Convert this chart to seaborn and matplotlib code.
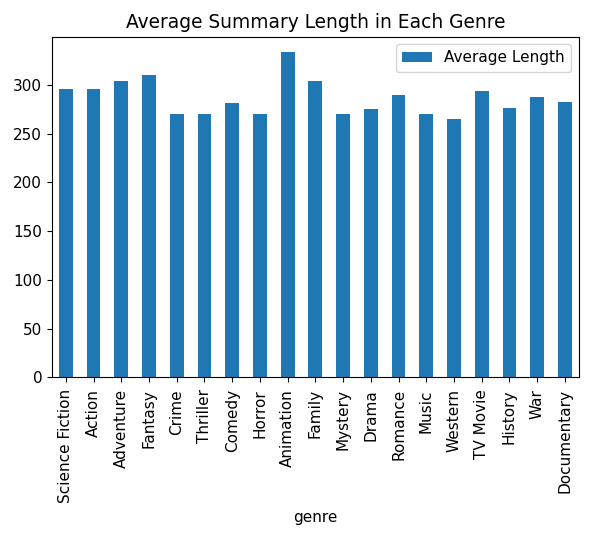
import numpy as np
import pandas as pd
import matplotlib
matplotlib.use("Agg")
import matplotlib.pyplot as plt
import seaborn as sns

genres = ['Science Fiction', 'Action', 'Adventure', 'Fantasy', 'Crime', 'Thriller',
          'Comedy', 'Horror', 'Animation', 'Family', 'Mystery', 'Drama', 'Romance',
          'Music', 'Western', 'TV Movie', 'History', 'War', 'Documentary']
avg_length = [295.8, 295.8, 304.0, 310.5, 270.2, 270.2, 281.5, 270.2, 333.4, 304.0,
              270.2, 275.0, 289.4, 270.2, 265.5, 294.2, 276.8, 288.0, 283.0]

df = pd.DataFrame({'genre': genres, 'Average Length': avg_length})

plt.rcParams.update(matplotlib.rcParamsDefault)
plt.rcParams['font.size'] = 11
fig, ax = plt.subplots(figsize=(5.9, 5.39), dpi=100)
fig.subplots_adjust(left=0.088, right=0.981, top=0.932, bottom=0.300)

sns.barplot(data=df, x='genre', y='Average Length', color='#1f77b4', saturation=1,
            width=0.5, label='Average Length', ax=ax)

ax.set_xlim(-0.5, len(genres) - 0.5)
ax.set_ylim(0, 349.6)
ax.set_ylabel('')
ax.set_xlabel('genre', fontsize=11, labelpad=5)
ax.tick_params(axis='x', rotation=90, labelsize=11, pad=5)
ax.tick_params(axis='y', labelsize=11)
ax.set_title('Average Summary Length in Each Genre', fontsize=13.4)
ax.legend(loc='upper right', fontsize=11)

fig.savefig('out.png', dpi=100)
